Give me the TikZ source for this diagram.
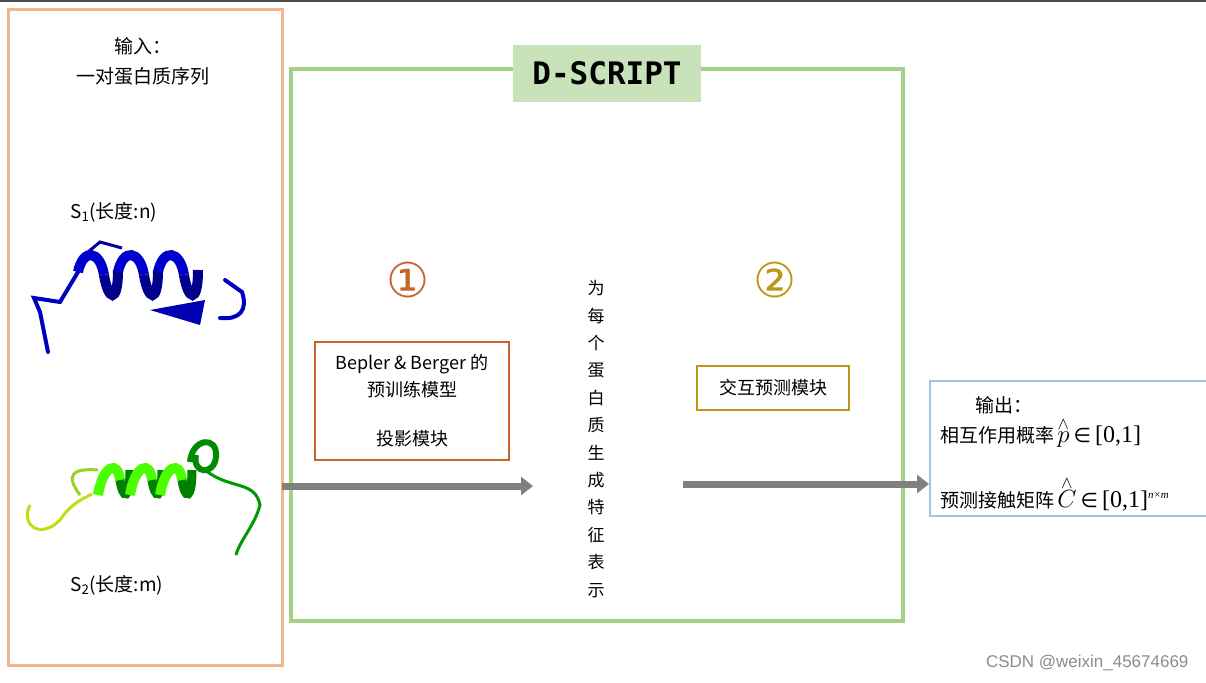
\documentclass[tikz,border=0pt]{standalone}
\usepackage{fontspec}
\setmainfont{Liberation Sans}
\newfontfamily\cjk{Noto Sans CJK SC}
\newfontfamily\djvfont{DejaVu Sans}
\newfontfamily\monof{DejaVu Sans Mono}
\newfontfamily\serf{Liberation Serif}
\usetikzlibrary{arrows.meta}
\definecolor{orbox}{RGB}{242,180,140}
\definecolor{grbox}{RGB}{165,208,135}
\definecolor{grfill}{RGB}{200,226,185}
\definecolor{brbox}{RGB}{200,100,40}
\definecolor{gdbox}{RGB}{190,150,20}
\definecolor{blbox}{RGB}{160,195,230}
\definecolor{arr}{RGB}{128,128,128}
\tikzset{txt/.style={font=\cjk\fontsize{19}{24}\selectfont,align=center,inner sep=0pt},
 garrow/.style={draw=arr,line width=7pt,-{Triangle[length=12pt,width=18pt]}}}
\newcommand{\hatsym}[1]{\ensuremath{\mathop{\vphantom{#1}\smash{#1}}\limits^{\wedge}}}
\newcommand{\elemof}{{\djvfont\fontsize{20}{20}\selectfont ∈}}
\begin{document}
\begin{tikzpicture}[x=1pt,y=-1pt]
\useasboundingbox (0,0) rectangle (1206,682);
\fill[white] (0,0) rectangle (1206,682);
\draw[black!70,line width=2pt] (0,1) -- (1206,1);
\node[draw=orbox,line width=3pt,minimum width=274pt,minimum height=655pt,inner sep=0pt] (inbox) at (145,337.5) {};
\node[draw=grbox,line width=3.5pt,minimum width=612pt,minimum height=552pt,inner sep=0pt] (ds) at (597,345) {};
\node[fill=grfill,minimum width=188pt,minimum height=57pt,inner sep=0pt,font=\monof\bfseries\fontsize{31}{36}\selectfont] (title) at (607,73.5) {D-SCRIPT};
\node[txt,font=\cjk\fontsize{19}{30}\selectfont] (in) at (143,61) {输入：\\一对蛋白质序列};
\node[txt,anchor=west] (s1) at (70,212) {S\textsubscript{1}(长度:n)};
\node[txt,anchor=west] (s2) at (70,585) {S\textsubscript{2}(长度:m)};
% blue protein
\draw[blue!75!black,line width=4pt,line cap=round] (48,352) -- (40,312) -- (34,298) -- (60,302) -- (78,272);
\draw[blue!75!black,line width=4pt,line cap=round] (220,318) .. controls (240,320) and (248,310) .. (242,292) -- (225,280);
\draw[blue!60!black,line width=3pt] (88,252) -- (100,242) -- (122,248);
\foreach \x in {78,118,158}{
  \draw[blue!80!black,line width=10pt] (\x,272) .. controls (\x+5,248) and (\x+22,250) .. (\x+26,275);
  \draw[blue!55!black,line width=10pt] (\x+26,275) .. controls (\x+30,300) and (\x+40,305) .. (\x+40,270);
}
\fill[blue!70!black] (150,310) -- (205,300) -- (200,325) -- cycle;
% green protein
\draw[yellow!75!green,line width=3pt] (30,505) .. controls (20,525) and (40,540) .. (60,520) .. controls (70,505) and (80,500) .. (92,494);
\draw[green!60!black,line width=3pt] (205,470) .. controls (230,490) and (255,480) .. (260,505) .. controls (255,525) and (240,540) .. (236,555);
\draw[yellow!60!green,line width=3pt] (80,495) .. controls (65,475) and (72,468) .. (98,470);
\foreach \x in {98,130,160}{
  \draw[green!70!yellow,line width=10pt] (\x,495) .. controls (\x+5,465) and (\x+20,460) .. (\x+22,480);
  \draw[green!50!black,line width=9pt] (\x+22,480) .. controls (\x+25,500) and (\x+32,500) .. (\x+32,470);
}
\draw[green!55!black,line width=6pt] (190,462) .. controls (192,438) and (218,435) .. (216,457) .. controls (214,476) and (192,474) .. (196,455);
% circled numbers
\node[font=\djvfont\fontsize{48}{50}\selectfont,text=brbox] (c1) at (408,280) {①};
\node[font=\djvfont\fontsize{48}{50}\selectfont,text=gdbox] (c2) at (775,280) {②};
\node[draw=brbox,line width=2.5pt,minimum width=194pt,minimum height=118pt,align=center,font=\cjk\fontsize{18}{27}\selectfont] (pre) at (412,401) {Bepler \& Berger 的\\预训练模型\\[22pt]投影模块};
\node[draw=gdbox,line width=2.5pt,minimum width=152pt,minimum height=44pt,font=\cjk\fontsize{18}{20}\selectfont] (inter) at (773,388) {交互预测模块};
\node[txt,font=\cjk\fontsize{17}{27.4}\selectfont] (vert) at (596,439) {为\\每\\个\\蛋\\白\\质\\生\\成\\特\\征\\表\\示};
\node[draw=blbox,line width=2.5pt,minimum width=278pt,minimum height=135pt,inner sep=0pt] (out) at (1069,448.5) {};
\node[txt,anchor=west] (o1) at (975,405) {输出：};
\node[txt,anchor=west] (o2) at (940,433) {相互作用概率\,\serf\fontsize{24}{24}\selectfont$\hatsym{p}$\,\elemof\,[0,1]};
\node[txt,anchor=west] (o3) at (940,495) {预测接触矩阵\,\serf\fontsize{24}{24}\selectfont$\hatsym{C}$\,\elemof\,[0,1]\textsuperscript{\fontsize{11}{11}\selectfont\itshape n×m}};
\coordinate (a1s) at (282,486); \coordinate (a1e) at (533,486);
\coordinate (a2s) at (683,484); \coordinate (a2e) at (929,484);
\draw[garrow] (a1s) -- (a1e);
\draw[garrow] (a2s) -- (a2e);
\node[text=black!45,font=\fontsize{17}{19}\selectfont,anchor=east] (wm) at (1192,663) {CSDN @weixin\_45674669};
\end{tikzpicture}
\end{document}
